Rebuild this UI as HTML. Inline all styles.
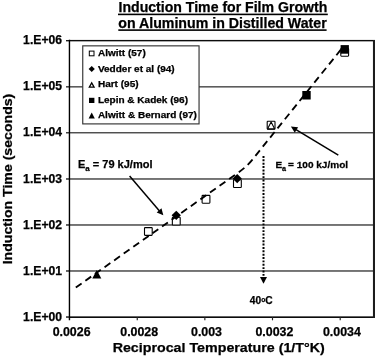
<!DOCTYPE html>
<html><head><meta charset="utf-8">
<title>Induction Time for Film Growth on Aluminum in Distilled Water</title>
<style>
html,body{margin:0;padding:0;background:#fff;}
svg{display:block;}
text{font-family:"Liberation Sans",Arial,Helvetica,sans-serif;font-weight:bold;fill:#000;stroke:#000;stroke-width:0.25px;}
</style></head>
<body>
<svg width="375" height="356" viewBox="0 0 375 356">
<rect x="0" y="0" width="375" height="356" fill="#fff"/>

<!-- gridlines -->
<g shape-rendering="crispEdges">
<rect x="70" y="86" width="304" height="1" fill="#5c5c5c"/><rect x="70" y="87" width="304" height="1" fill="#9c9c9c"/>
<rect x="70" y="132" width="304" height="1" fill="#505050"/><rect x="70" y="133" width="304" height="1" fill="#adadad"/>
<rect x="70" y="178" width="304" height="1" fill="#737373"/><rect x="70" y="179" width="304" height="1" fill="#7b7b7b"/>
<rect x="70" y="224" width="304" height="1" fill="#737373"/><rect x="70" y="225" width="304" height="1" fill="#7b7b7b"/>
<rect x="70" y="270" width="304" height="1" fill="#737373"/><rect x="70" y="271" width="304" height="1" fill="#7b7b7b"/>
<!-- y ticks -->
<rect x="66" y="40" width="4" height="1" fill="#1a1a1a"/><rect x="66" y="41" width="4" height="1" fill="#a8a8a8"/>
<rect x="66" y="86" width="4" height="1" fill="#4c4c4c"/><rect x="66" y="87" width="4" height="1" fill="#909090"/>
<rect x="66" y="132" width="4" height="1" fill="#404040"/><rect x="66" y="133" width="4" height="1" fill="#a0a0a0"/>
<rect x="66" y="178" width="4" height="1" fill="#606060"/><rect x="66" y="179" width="4" height="1" fill="#686868"/>
<rect x="66" y="224" width="4" height="1" fill="#606060"/><rect x="66" y="225" width="4" height="1" fill="#686868"/>
<rect x="66" y="270" width="4" height="1" fill="#606060"/><rect x="66" y="271" width="4" height="1" fill="#686868"/>
<rect x="66" y="316" width="4" height="1" fill="#606060"/><rect x="66" y="317" width="4" height="1" fill="#505050"/>
<!-- top border -->
<rect x="69" y="39" width="306" height="1" fill="#ececec"/><rect x="69" y="40" width="306" height="1" fill="#0c0c0c"/><rect x="69" y="41" width="306" height="1" fill="#a8a8a8"/>
<!-- bottom axis -->
<rect x="69" y="316" width="306" height="1" fill="#626262"/><rect x="69" y="317" width="306" height="1" fill="#0c0c0c"/>
</g>
<!-- right border -->
<line x1="374" y1="40" x2="374" y2="318" stroke="#1c1c1c" stroke-width="2.1"/>
<!-- left axis and x ticks -->
<line x1="69.45" y1="39.8" x2="69.45" y2="320.2" stroke="#000" stroke-width="1.4"/>
<g stroke="#222" stroke-width="1.15">
<line x1="137.25" y1="317" x2="137.25" y2="320.3"/>
<line x1="204.85" y1="317" x2="204.85" y2="320.3"/>
<line x1="272.5" y1="317" x2="272.5" y2="320.3"/>
<line x1="340.2" y1="317" x2="340.2" y2="320.3"/>
</g>

<!-- title -->
<text x="222.9" y="12" font-size="14.1" text-anchor="middle">Induction Time for Film Growth</text>
<rect x="118" y="13.6" width="209.8" height="1.6" fill="#000"/>
<text x="222.5" y="27.5" font-size="14.1" text-anchor="middle" textLength="208.5" lengthAdjust="spacingAndGlyphs">on Aluminum in Distilled Water</text>
<rect x="118.3" y="29.3" width="208.3" height="1.6" fill="#000"/>

<!-- y labels -->
<g font-size="11.9" text-anchor="end">
<text x="62.1" y="44.2" textLength="39" lengthAdjust="spacingAndGlyphs">1.E+06</text>
<text x="62.1" y="90.4" textLength="39" lengthAdjust="spacingAndGlyphs">1.E+05</text>
<text x="62.1" y="136.3" textLength="39" lengthAdjust="spacingAndGlyphs">1.E+04</text>
<text x="62.1" y="182.7" textLength="39" lengthAdjust="spacingAndGlyphs">1.E+03</text>
<text x="62.1" y="228.7" textLength="39" lengthAdjust="spacingAndGlyphs">1.E+02</text>
<text x="62.1" y="274.7" textLength="39" lengthAdjust="spacingAndGlyphs">1.E+01</text>
<text x="62.1" y="320.6" textLength="39" lengthAdjust="spacingAndGlyphs">1.E+00</text>
</g>
<!-- x labels -->
<g font-size="12.4" text-anchor="middle">
<text x="71.6" y="335.6">0.0026</text>
<text x="139.2" y="335.6">0.0028</text>
<text x="206.5" y="335.6">0.003</text>
<text x="274.4" y="335.6">0.0032</text>
<text x="341.9" y="335.6">0.0034</text>
</g>
<text x="218.7" y="351.7" font-size="13.6" text-anchor="middle" textLength="212.1" lengthAdjust="spacingAndGlyphs">Reciprocal Temperature (1/T°K)</text>
<text transform="translate(11.5,179) rotate(-90)" font-size="13.4" text-anchor="middle" textLength="170.6" lengthAdjust="spacingAndGlyphs">Induction Time (seconds)</text>

<!-- dotted 40C line -->
<line x1="263.5" y1="156" x2="263.5" y2="277.5" stroke="#000" stroke-width="2" stroke-dasharray="1.9 1.47"/>
<polygon points="260,276.9 267,276.9 263.5,283.8" fill="#000"/>
<text transform="translate(249.8,303.7) scale(1.0,1)" font-size="10.2">40<tspan font-size="6.7" dy="-2.1">o</tspan><tspan dy="2.1">C</tspan></text>

<!-- annotation arrows -->
<g stroke="#000" stroke-width="1.5" fill="#000">
<line x1="129.6" y1="175.9" x2="159.5" y2="210.9"/>
<polygon points="163.3,215.3 156.7,212.5 161.5,208.3" stroke="none"/>
<line x1="338.3" y1="155.2" x2="296" y2="129.7"/>
<polygon points="290.9,126.6 298.1,127.2 294.8,132.7" stroke="none"/>
</g>
<text x="78" y="167.9" font-size="11">E<tspan font-size="8" dy="2.7">a</tspan><tspan dy="-2.7"> = 79 kJ/mol</tspan></text>
<text transform="translate(275.4,167.9) scale(1.06,1)" font-size="9.5">E<tspan font-size="6.8" dy="3">a</tspan><tspan dy="-3" dx="-0.8"> = 100 kJ/mol</tspan></text>

<!-- markers: open squares (Alwitt 57) -->
<g fill="#fff" stroke="#000" stroke-width="1.1">
<rect x="144.5" y="227.65" width="7.7" height="7.7" rx="0.6"/>
<rect x="172.35" y="217.2" width="7.85" height="7.8" rx="0.6"/>
<rect x="202.1" y="195.4" width="7.8" height="7.8" rx="0.6"/>
<rect x="233.5" y="179.7" width="7.8" height="7.8" rx="0.6"/>
<rect x="267.2" y="121.3" width="7.8" height="7.8" rx="0.6"/>
<rect x="340.8" y="48.4" width="7.8" height="7.8" rx="0.6"/>
</g>
<!-- trend line -->
<path d="M75.8,287.5 L236,174.2 C243,169.2 247.2,166 252,160.1 L343,47" fill="none" stroke="#000" stroke-width="1.85" stroke-dasharray="7.1 4.64"/>
<!-- diamonds (Vedder 94) -->
<g fill="#000">
<polygon points="176.25,210.7 180.9,215.3 176.25,219.9 171.6,215.3"/>
<polygon points="237.2,174 241.8,178.6 237.2,183.2 232.6,178.6"/>
</g>
<!-- open triangle (Hart 95) -->
<polygon points="271.1,121.9 274.7,128.9 267.5,128.9" fill="#fff" stroke="#000" stroke-width="1.1" stroke-linejoin="round"/>
<!-- filled squares (Lepin & Kadek 96) -->
<g fill="#000">
<rect x="302.3" y="91" width="8.4" height="8.5"/>
<rect x="340.6" y="45.1" width="8.3" height="8.6"/>
</g>
<!-- filled triangle (Alwitt & Bernard 97) -->
<polygon points="96.8,270 101.3,278.4 92.3,278.4" fill="#000"/>

<!-- legend -->
<rect x="82.75" y="45.85" width="116.3" height="78.05" fill="#fff" stroke="#333" stroke-width="1.15"/>
<rect x="89.3" y="51.1" width="4.7" height="4.7" fill="#fff" stroke="#000" stroke-width="1"/>
<polygon points="91.7,65.9 94.8,69 91.7,72.1 88.6,69" fill="#000"/>
<polygon points="91.7,82.9 94.1,87.2 89.3,87.2" fill="#fff" stroke="#000" stroke-width="1.25"/>
<rect x="89" y="97.8" width="5.4" height="5.2" fill="#000"/>
<polygon points="91.7,112.6 94.8,118.4 88.6,118.4" fill="#000"/>
<g font-size="9">
<text x="97.9" y="56.4" textLength="47.9" lengthAdjust="spacingAndGlyphs">Alwitt (57)</text>
<text x="97.9" y="71.9" textLength="76.8" lengthAdjust="spacingAndGlyphs">Vedder et al (94)</text>
<text x="97.9" y="87.4" textLength="40.7" lengthAdjust="spacingAndGlyphs">Hart (95)</text>
<text x="97.9" y="102.9" textLength="90.1" lengthAdjust="spacingAndGlyphs">Lepin &amp; Kadek (96)</text>
<text x="97.9" y="118.4" textLength="99" lengthAdjust="spacingAndGlyphs">Alwitt &amp; Bernard (97)</text>
</g>
</svg>
</body></html>
